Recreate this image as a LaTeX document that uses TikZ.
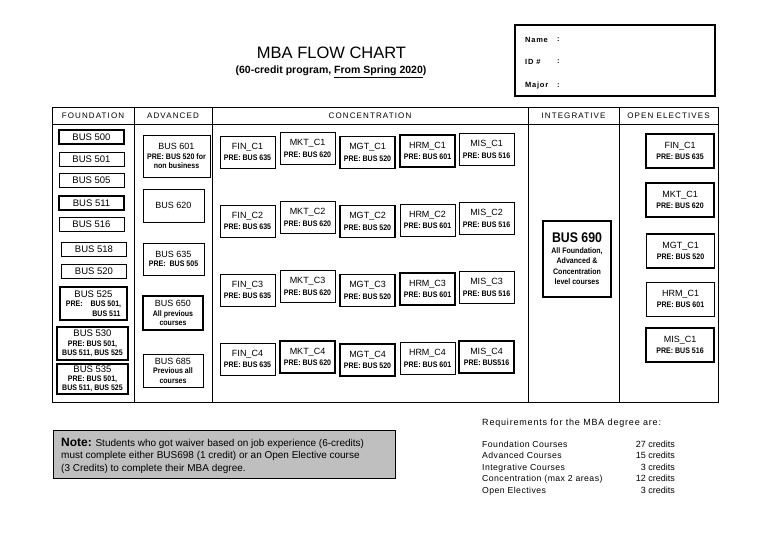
\documentclass[tikz,border=0pt]{standalone}
\usepackage{fontspec}
\setmainfont{Liberation Sans}
\newfontfamily\prefont[FakeStretch=0.88]{Liberation Sans Bold}
\newfontfamily\hdrfont[LetterSpace=14]{Liberation Sans}
\newfontfamily\spacedfont[LetterSpace=5]{Liberation Sans}
\newfontfamily\headfont[LetterSpace=9]{Liberation Sans}
\newfontfamily\idfont[LetterSpace=10]{Liberation Sans Bold}
\newcommand{\presz}{\prefont\fontsize{8}{9.5}\selectfont}
\tikzset{
  course/.style={draw, line width=0.7pt, inner sep=0pt, align=center, font=\fontsize{9}{10}\selectfont},
  heavy/.style={line width=1.1pt},
  found/.style={course, minimum width=65pt, minimum height=14pt, font=\fontsize{9.5}{10}\selectfont},
  adv/.style={course, minimum width=61pt, minimum height=33pt, font=\fontsize{9}{9.5}\selectfont},
  conc/.style={course, minimum width=55pt, minimum height=32pt, font=\fontsize{9}{11.5}\selectfont},
  elec/.style={course, minimum width=68pt, minimum height=34pt, font=\fontsize{9}{11.5}\selectfont},
  colhead/.style={font=\hdrfont\fontsize{8}{9}\selectfont},
  idtext/.style={anchor=west, inner sep=0pt, font=\idfont\fontsize{7.5}{8}\selectfont},
  reqtext/.style={anchor=base west, inner sep=0pt, font=\spacedfont\fontsize{8.7}{9}\selectfont},
  credit/.style={anchor=base east, inner sep=0pt, font=\fontsize{9}{9}\selectfont},
}

\begin{document}
\begin{tikzpicture}[x=1pt,y=-1pt]
\useasboundingbox (0,0) rectangle (768,543);
    % title and student block
    \node[font=\fontsize{16.5}{18}\selectfont] (title) at (331.5,53) {MBA FLOW CHART};
    \node[font=\bfseries\fontsize{10.5}{12}\selectfont] (subtitle) at (331,72) {(60-credit program, \underline{From Spring 2020})};
    \draw[line width=1.2pt] (515,25) rectangle (715,96);
    \node[idtext] (namel) at (525,40) {Name};
    \node[idtext] (namec) at (557,40) {:};
    \node[idtext] (idl) at (525,62) {ID \#};
    \node[idtext] (idc) at (557,62) {:};
    \node[idtext] (majorl) at (525,86) {Major};
    \node[idtext] (majorc) at (557,86) {:};

    % table frame
    \draw[line width=1pt] (52,107) rectangle (718,402);
    \draw[line width=1pt] (52,124)--(718,124);
    \draw[line width=1pt] (134,107)--(134,402);
    \draw[line width=1pt] (212,107)--(212,402);
    \draw[line width=1pt] (528,107)--(528,402);
    \draw[line width=1pt] (619,107)--(619,402);
    \node[colhead] (hfound) at (93,115.5) {FOUNDATION};
    \node[colhead] (hadv) at (173,115.5) {ADVANCED};
    \node[colhead] (hconc) at (370,115.5) {CONCENTRATION};
    \node[colhead] (hinteg) at (573.5,115.5) {INTEGRATIVE};
    \node[colhead] (hopen) at (668.5,115.5) {OPEN ELECTIVES};

    % foundation
    \node[found,heavy] (b500) at (91.5,137) {BUS 500};
    \node[found] (b501) at (91.5,159.5) {BUS 501};
    \node[found] (b505) at (91.5,180) {BUS 505};
    \node[found,heavy] (b511) at (91.5,203) {BUS 511};
    \node[found] (b516) at (91.5,224.5) {BUS 516};
    \node[found] (b518) at (94,249) {BUS 518};
    \node[found] (b520) at (94,271.5) {BUS 520};
    \node[course,heavy,minimum width=67pt,minimum height=33pt,font=\fontsize{9.5}{9.5}\selectfont] (b525) at (93.5,303.5) {BUS 525\\\presz PRE:\hspace{8pt}BUS 501,\\\presz\hspace*{26pt}BUS 511};
    \node[course,heavy,minimum width=71pt,minimum height=33pt,font=\fontsize{9.5}{9.5}\selectfont] (b530) at (92.5,343.5) {BUS 530\\\presz PRE: BUS 501,\\\presz BUS 511, BUS 525};
    \node[course,heavy,minimum width=71pt,minimum height=30pt,font=\fontsize{9.5}{9}\selectfont] (b535) at (92.5,379) {BUS 535\\\prefont\fontsize{8}{9}\selectfont PRE: BUS 501,\\\prefont\fontsize{8}{9}\selectfont BUS 511, BUS 525};

    % advanced
    \node[adv,minimum width=67pt,minimum height=42pt] (b601) at (176.5,156) {BUS 601\\\presz PRE: BUS 520 for\\\presz non business};
    \node[adv] (b620) at (173.5,205.5) {BUS 620};
    \node[adv,minimum height=32pt] (b635) at (173.5,259) {BUS 635\\\presz PRE:\hspace{4pt}BUS 505};
    \node[adv,heavy,minimum width=60pt,minimum height=34pt] (b650) at (173,313) {BUS 650\\\presz All previous\\\presz courses};
    \node[adv,minimum width=60pt] (b685) at (173,370.5) {BUS 685\\\presz Previous all\\\presz courses};

    % concentration
    \node[conc] (fin1) at (247.5,152) {FIN\_C1\\\presz PRE: BUS 635};
    \node[conc] (mkt1) at (307.5,148.5) {MKT\_C1\\\presz PRE: BUS 620};
    \node[conc,heavy] (mgt1) at (367.5,152.5) {MGT\_C1\\\presz PRE: BUS 520};
    \node[conc,heavy] (hrm1) at (427.5,151) {HRM\_C1\\\presz PRE: BUS 601};
    \node[conc] (mis1) at (486.5,149.5) {MIS\_C1\\\presz PRE: BUS 516};
    \node[conc] (fin2) at (247.5,221) {FIN\_C2\\\presz PRE: BUS 635};
    \node[conc] (mkt2) at (307.5,217.5) {MKT\_C2\\\presz PRE: BUS 620};
    \node[conc,heavy] (mgt2) at (367.5,221.5) {MGT\_C2\\\presz PRE: BUS 520};
    \node[conc] (hrm2) at (427.5,220) {HRM\_C2\\\presz PRE: BUS 601};
    \node[conc] (mis2) at (486.5,218.5) {MIS\_C2\\\presz PRE: BUS 516};
    \node[conc] (fin3) at (247.5,290) {FIN\_C3\\\presz PRE: BUS 635};
    \node[conc] (mkt3) at (307.5,286.5) {MKT\_C3\\\presz PRE: BUS 620};
    \node[conc,heavy] (mgt3) at (367.5,290.5) {MGT\_C3\\\presz PRE: BUS 520};
    \node[conc,heavy] (hrm3) at (427.5,289) {HRM\_C3\\\presz PRE: BUS 601};
    \node[conc] (mis3) at (486.5,287.5) {MIS\_C3\\\presz PRE: BUS 516};
    \node[conc] (fin4) at (247.5,359) {FIN\_C4\\\presz PRE: BUS 635};
    \node[conc,heavy] (mkt4) at (307.5,357) {MKT\_C4\\\presz PRE: BUS 620};
    \node[conc,heavy] (mgt4) at (367.5,360) {MGT\_C4\\\presz PRE: BUS 520};
    \node[conc] (hrm4) at (427.5,358.5) {HRM\_C4\\\presz PRE: BUS 601};
    \node[conc,heavy] (mis4) at (486.5,357) {MIS\_C4\\\presz PRE: BUS516};

    % integrative
    \node[course,line width=1.5pt,minimum width=68pt,minimum height=76pt,font=\prefont\fontsize{8}{10.5}\selectfont] (b690) at (577,259) {{\bfseries\fontsize{14}{16}\selectfont BUS 690}\\All Foundation,\\Advanced \&\\Concentration\\level courses};

    % open electives
    \node[elec,heavy] (ofin) at (680,151) {FIN\_C1\\\presz PRE: BUS 635};
    \node[elec,heavy] (omkt) at (680,200) {MKT\_C1\\\presz PRE: BUS 620};
    \node[elec,heavy] (omgt) at (680.5,251) {MGT\_C1\\\presz PRE: BUS 520};
    \node[elec] (ohrm) at (680.5,299) {HRM\_C1\\\presz PRE: BUS 601};
    \node[elec,heavy] (omis) at (680,345) {MIS\_C1\\\presz PRE: BUS 516};

    % note
    \node[draw,line width=1pt,fill=black!25,minimum width=342pt,minimum height=48pt,inner sep=0pt] (note) at (224,454) {};
    \node[anchor=west,align=left,inner sep=0pt,font=\fontsize{10}{12.5}\selectfont] (notetext) at (61,455.5) {{\bfseries\fontsize{12}{12}\selectfont Note:} Students who got waiver based on job experience (6-credits)\\must complete either BUS698 (1 credit) or an Open Elective course\\(3 Credits) to complete their MBA degree.};

    % requirements
    \node[reqtext,font=\headfont\fontsize{9}{9}\selectfont] (reqhead) at (482,425) {Requirements for the MBA degree are:};
    \node[reqtext] (req1) at (482,447) {Foundation Courses};
    \node[reqtext] (req2) at (482,458.5) {Advanced Courses};
    \node[reqtext] (req3) at (482,470) {Integrative Courses};
    \node[reqtext] (req4) at (482,481.5) {Concentration (max 2 areas)};
    \node[reqtext] (req5) at (482,493) {Open Electives};
    \node[credit] (cr1) at (675,447) {27 credits};
    \node[credit] (cr2) at (675,458.5) {15 credits};
    \node[credit] (cr3) at (675,470) {3 credits};
    \node[credit] (cr4) at (675,481.5) {12 credits};
    \node[credit] (cr5) at (675,493) {3 credits};
    \end{tikzpicture}
\end{document}
